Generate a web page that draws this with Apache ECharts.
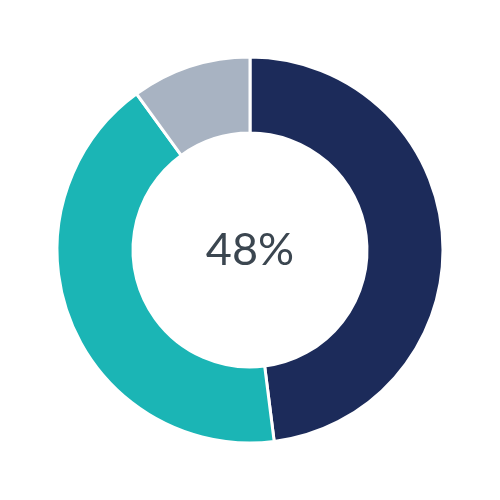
<!DOCTYPE html>
<html>
<head>
<meta charset="utf-8">
<script src="https://cdn.jsdelivr.net/npm/echarts@6/dist/echarts.min.js"></script>
<style>
  html, body { margin: 0; padding: 0; background: #fff; }
  #chart { width: 500px; height: 500px; }
</style>
</head>
<body>
<div id="chart"></div>
<script>
// slice names and shares, clockwise from 12 o'clock
const names = ['A', 'B', 'C'];
const values = [48, 42, 10];
const colors = ['#1c2b5a', '#1bb5b5', '#a8b3c2'];
const centerLabel = '48%';

const chart = echarts.init(document.getElementById('chart'));
chart.setOption({
  animation: false,
  title: {
    text: centerLabel,
    left: 'center',
    top: 'middle',
    textStyle: {
      fontFamily: 'Lato',
      fontWeight: 'normal',
      fontSize: 45,
      color: '#3b4650'
    }
  },
  series: [{
    type: 'pie',
    center: [250, 250],
    radius: [117, 193],
    startAngle: 90,
    clockwise: true,
    label: {show: false},
    labelLine: {show: false},
    itemStyle: {
      borderColor: '#fff',
      borderWidth: 3
    },
    data: names.map((n, i) => ({
      name: n,
      value: values[i],
      itemStyle: {color: colors[i]}
    }))
  }]
});
</script>
</body>
</html>
